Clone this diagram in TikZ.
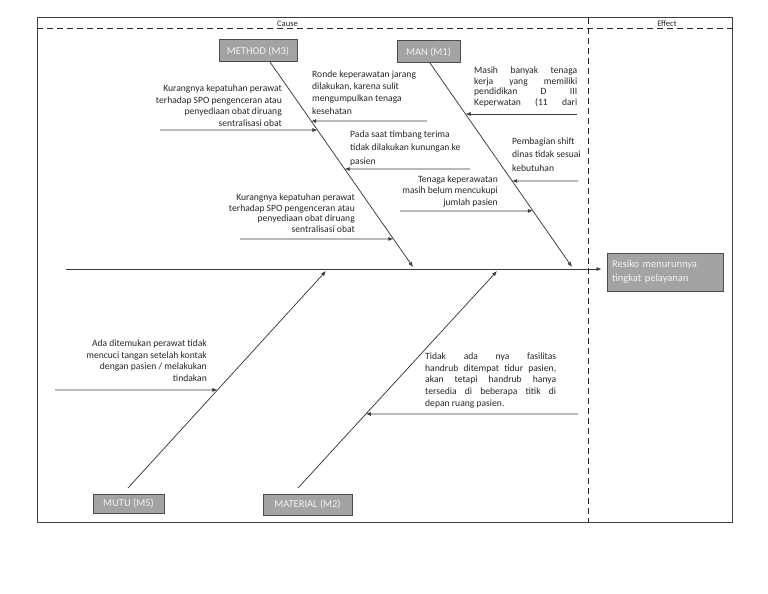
\documentclass[tikz,border=0pt]{standalone}
\usepackage{fontspec}
\setmainfont{Carlito}
\usetikzlibrary{arrows.meta,calc}
\definecolor{linec}{HTML}{3A3A3A}
\definecolor{boxfill}{HTML}{A3A3A3}
\definecolor{boxtext}{HTML}{F2F2F2}
\newcommand{\lfs}[1]{\fontsize{9.6}{#1}\selectfont}
\tikzset{
  conn/.style={draw=linec, line width=0.75pt},
  arr/.style={conn, -{Latex[length=5pt,width=4pt]}},
  dsh/.style={draw=black!85, line width=1pt, dash pattern=on 6pt off 4pt},
  lbl/.style={inner sep=0pt, text=black!85},
  catbox/.style={draw=black!70, line width=1pt, fill=boxfill, text=boxtext, inner sep=0pt,
    font=\fontsize{10.5}{11}\selectfont},
  hdr/.style={inner sep=0pt, text=black!85, font=\fontsize{8.5}{9}\selectfont}
}
\begin{document}
\begin{tikzpicture}[x=1pt,y=-1pt]
\useasboundingbox (0,0) rectangle (768,594);
% frame
\draw[line width=1pt, black!75] (37,18) rectangle (732,522);
\draw[dsh] (37,29) -- (732,29);
\draw[dsh] (588,18) -- (588,522);
\node[hdr] (cause) at (287.5,23.5) {Cause};
\node[hdr] (effect) at (667,23.5) {Effect};

% category boxes
\node[catbox, minimum width=78pt, minimum height=22pt] (m3) at (258,51) {METHOD (M3)};
\node[catbox, minimum width=63pt, minimum height=22pt] (m1) at (428.5,52) {MAN (M1)};
\node[catbox, minimum width=71pt, minimum height=19pt] (m5) at (128.5,503.5) {MUTU (M5)};
\node[catbox, minimum width=89pt, minimum height=21pt] (m2) at (307.5,504.5) {MATERIAL (M2)};
\node[catbox, minimum width=116pt, minimum height=38pt, align=left, text width=106pt,
  font=\fontsize{10.5}{14}\selectfont] (eff) at (665,272) {Resiko menurunnya\\tingkat pelayanan};

% spine
\coordinate (sp) at (66,269);
\draw[arr, shorten >=5pt] (sp) -- (eff.west |- sp);

% branches
\coordinate (m3s) at (270,62);  \coordinate (m3e) at (413,267);
\coordinate (m1s) at (430,63);  \coordinate (m1e) at (572,267);
\coordinate (m5s) at (128,488); \coordinate (m5e) at (326,271);
\coordinate (m2s) at (298,488); \coordinate (m2e) at (497,271);
\draw[arr] (m3s) -- (m3e);
\draw[arr] (m1s) -- (m1e);
\draw[arr] (m5s) -- (m5e);
\draw[arr] (m2s) -- (m2e);

% sub-cause arrows
\coordinate (a1s) at (160,130); \coordinate (a1e) at ($(m3s)!0.332!(m3e)$);
\draw[arr] (a1s) -- (a1e);
\coordinate (a2s) at (427,121); \coordinate (a2e) at ($(m3s)!0.288!(m3e)$);
\draw[arr] (a2s) -- (a2e);
\coordinate (a4s) at (470,169); \coordinate (a4e) at ($(m3s)!0.522!(m3e)$);
\draw[arr] (a4s) -- (a4e);
\coordinate (a7s) at (240,239); \coordinate (a7e) at ($(m3s)!0.863!(m3e)$);
\draw[arr] (a7s) -- (a7e);
\coordinate (a3s) at (577,114); \coordinate (a3e) at ($(m1s)!0.25!(m1e)$);
\draw[arr] (a3s) -- (a3e);
\coordinate (a5s) at (578,181); \coordinate (a5e) at ($(m1s)!0.578!(m1e)$);
\draw[arr] (a5s) -- (a5e);
\coordinate (a6s) at (400,211); \coordinate (a6e) at ($(m1s)!0.725!(m1e)$);
\draw[arr] (a6s) -- (a6e);
\coordinate (a8s) at (55,390); \coordinate (a8e) at ($(m5s)!0.452!(m5e)$);
\draw[arr] (a8s) -- (a8e);
\coordinate (a9s) at (578,414); \coordinate (a9e) at ($(m2s)!0.341!(m2e)$);
\draw[arr] (a9s) -- (a9e);

% texts
\node[lbl, anchor=north east, align=right, font=\lfs{11.7}] (t1) at (282,84.5)
  {Kurangnya kepatuhan perawat\\terhadap SPO pengenceran atau\\penyediaan obat diruang\\sentralisasi obat};
\node[lbl, anchor=north west, align=left, font=\lfs{12.3}] (t2) at (312,70.5)
  {Ronde keperawatan jarang\\dilakukan, karena sulit\\mengumpulkan tenaga\\kesehatan};
\node[lbl, anchor=north west, align=left, font=\lfs{10.7}] (t3) at (474,66.5)
  {\makebox[103pt][s]{Masih banyak tenaga}\\\makebox[103pt][s]{kerja yang memiliki}\\\makebox[103pt][s]{pendidikan D III}\\\makebox[103pt][s]{Keperwatan (11 dari}};
\node[lbl, anchor=north west, align=left, font=\lfs{13.5}] (t4) at (350,130.5)
  {Pada saat timbang terima\\tidak dilakukan kunungan ke\\pasien};
\node[lbl, anchor=north west, align=left, font=\lfs{13.5}] (t5) at (512,137.5)
  {Pembagian shift\\dinas tidak sesuai\\kebutuhan};
\node[lbl, anchor=north east, align=right, font=\lfs{11.5}] (t6) at (498,175.5)
  {Tenaga keperawatan\\masih belum mencukupi\\jumlah pasien};
\node[lbl, anchor=north east, align=right, font=\lfs{10.7}] (t7) at (355,193.5)
  {Kurangnya kepatuhan perawat\\terhadap SPO pengenceran atau\\penyediaan obat diruang\\sentralisasi obat};
\node[lbl, anchor=north east, align=right, font=\lfs{11.7}] (t8) at (207,339.5)
  {Ada ditemukan perawat tidak\\mencuci tangan setelah kontak\\dengan pasien / melakukan\\tindakan};
\node[lbl, anchor=north west, align=left, font=\lfs{11.75}] (t9) at (425,352.5)
  {\makebox[131pt][s]{Tidak ada nya fasilitas}\\\makebox[131pt][s]{handrub ditempat tidur pasien,}\\\makebox[131pt][s]{akan tetapi handrub hanya}\\\makebox[131pt][s]{tersedia di beberapa titik di}\\depan ruang pasien.};
\end{tikzpicture}
\end{document}
